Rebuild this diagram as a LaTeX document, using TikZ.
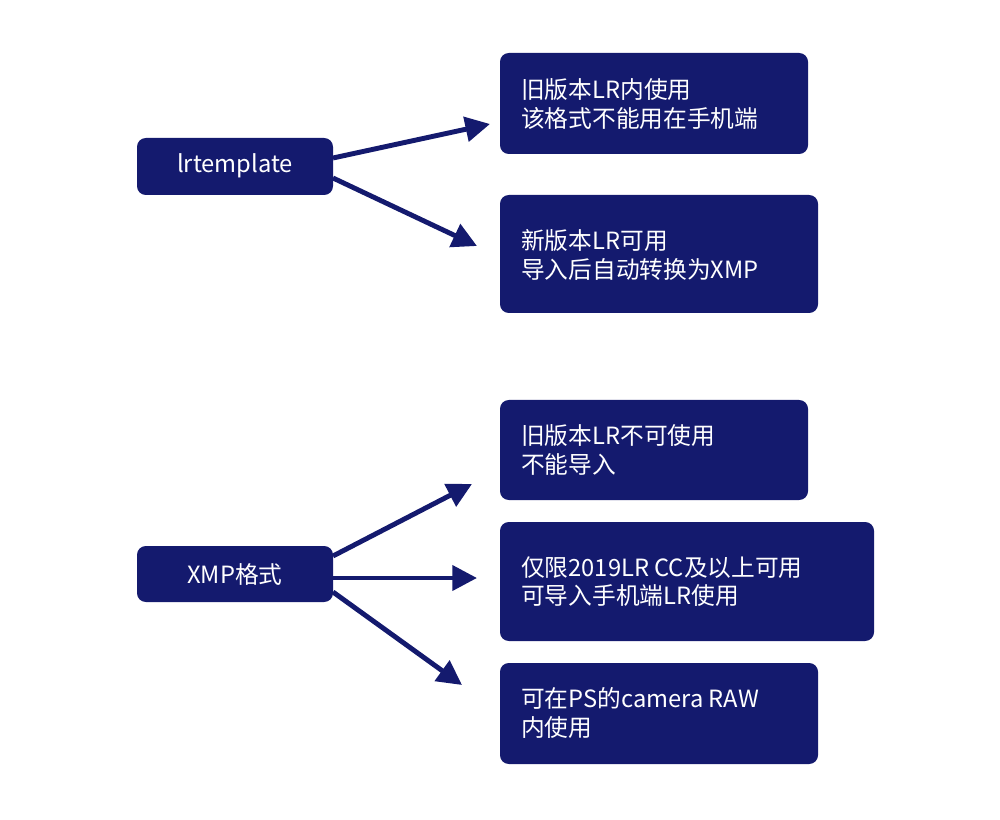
\documentclass[tikz,border=0pt]{standalone}
\usepackage{fontspec}
\setmainfont{Noto Sans CJK SC}
\usetikzlibrary{arrows.meta}
\definecolor{navy}{HTML}{141A6E}
\begin{document}
\begin{tikzpicture}[x=0.02cm,y=-0.02cm,
  box/.style={fill=navy,rounded corners=5pt,inner sep=0pt},
  txt/.style={text=white,font=\fontsize{13.5pt}{16pt}\selectfont,align=left,anchor=west},
  arr/.style={navy,line width=2.8pt,-{Triangle[length=14pt,width=14pt]}}]
\useasboundingbox (0,0) rectangle (1000,820);
\fill[box] (137,138) rectangle (333,195);
\node[txt,anchor=center] (a) at (235,166) {lrtemplate};
\fill[box] (137,546) rectangle (333,602);
\node[txt,anchor=center] (b) at (235,574) {XMP格式};
\fill[box] (500,53) rectangle (808,154);
\node[txt] (b1) at (515,104) {旧版本LR内使用\\该格式不能用在手机端};
\fill[box] (500,195) rectangle (818,313);
\node[txt] (b2) at (515,255) {新版本LR可用\\导入后自动转换为XMP};
\fill[box] (500,400) rectangle (808,500);
\node[txt] (b3) at (515,450) {旧版本LR不可使用\\不能导入};
\fill[box] (500,522) rectangle (874,641);
\node[txt] (b4) at (515,582) {仅限2019LR CC及以上可用\\可导入手机端LR使用};
\fill[box] (500,663) rectangle (818,764);
\node[txt] (b5) at (515,713) {可在PS的camera RAW\\内使用};
\coordinate (s1) at (333,158); \coordinate (e1) at (490,124);
\coordinate (s2) at (333,178); \coordinate (e2) at (477,246);
\coordinate (s3) at (333,556); \coordinate (e3) at (472,484);
\coordinate (s4) at (333,578); \coordinate (e4) at (477,578);
\coordinate (s5) at (333,592); \coordinate (e5) at (462,685);
\foreach \i in {1,...,5} \draw[arr] (s\i) -- (e\i);
\end{tikzpicture}
\end{document}
